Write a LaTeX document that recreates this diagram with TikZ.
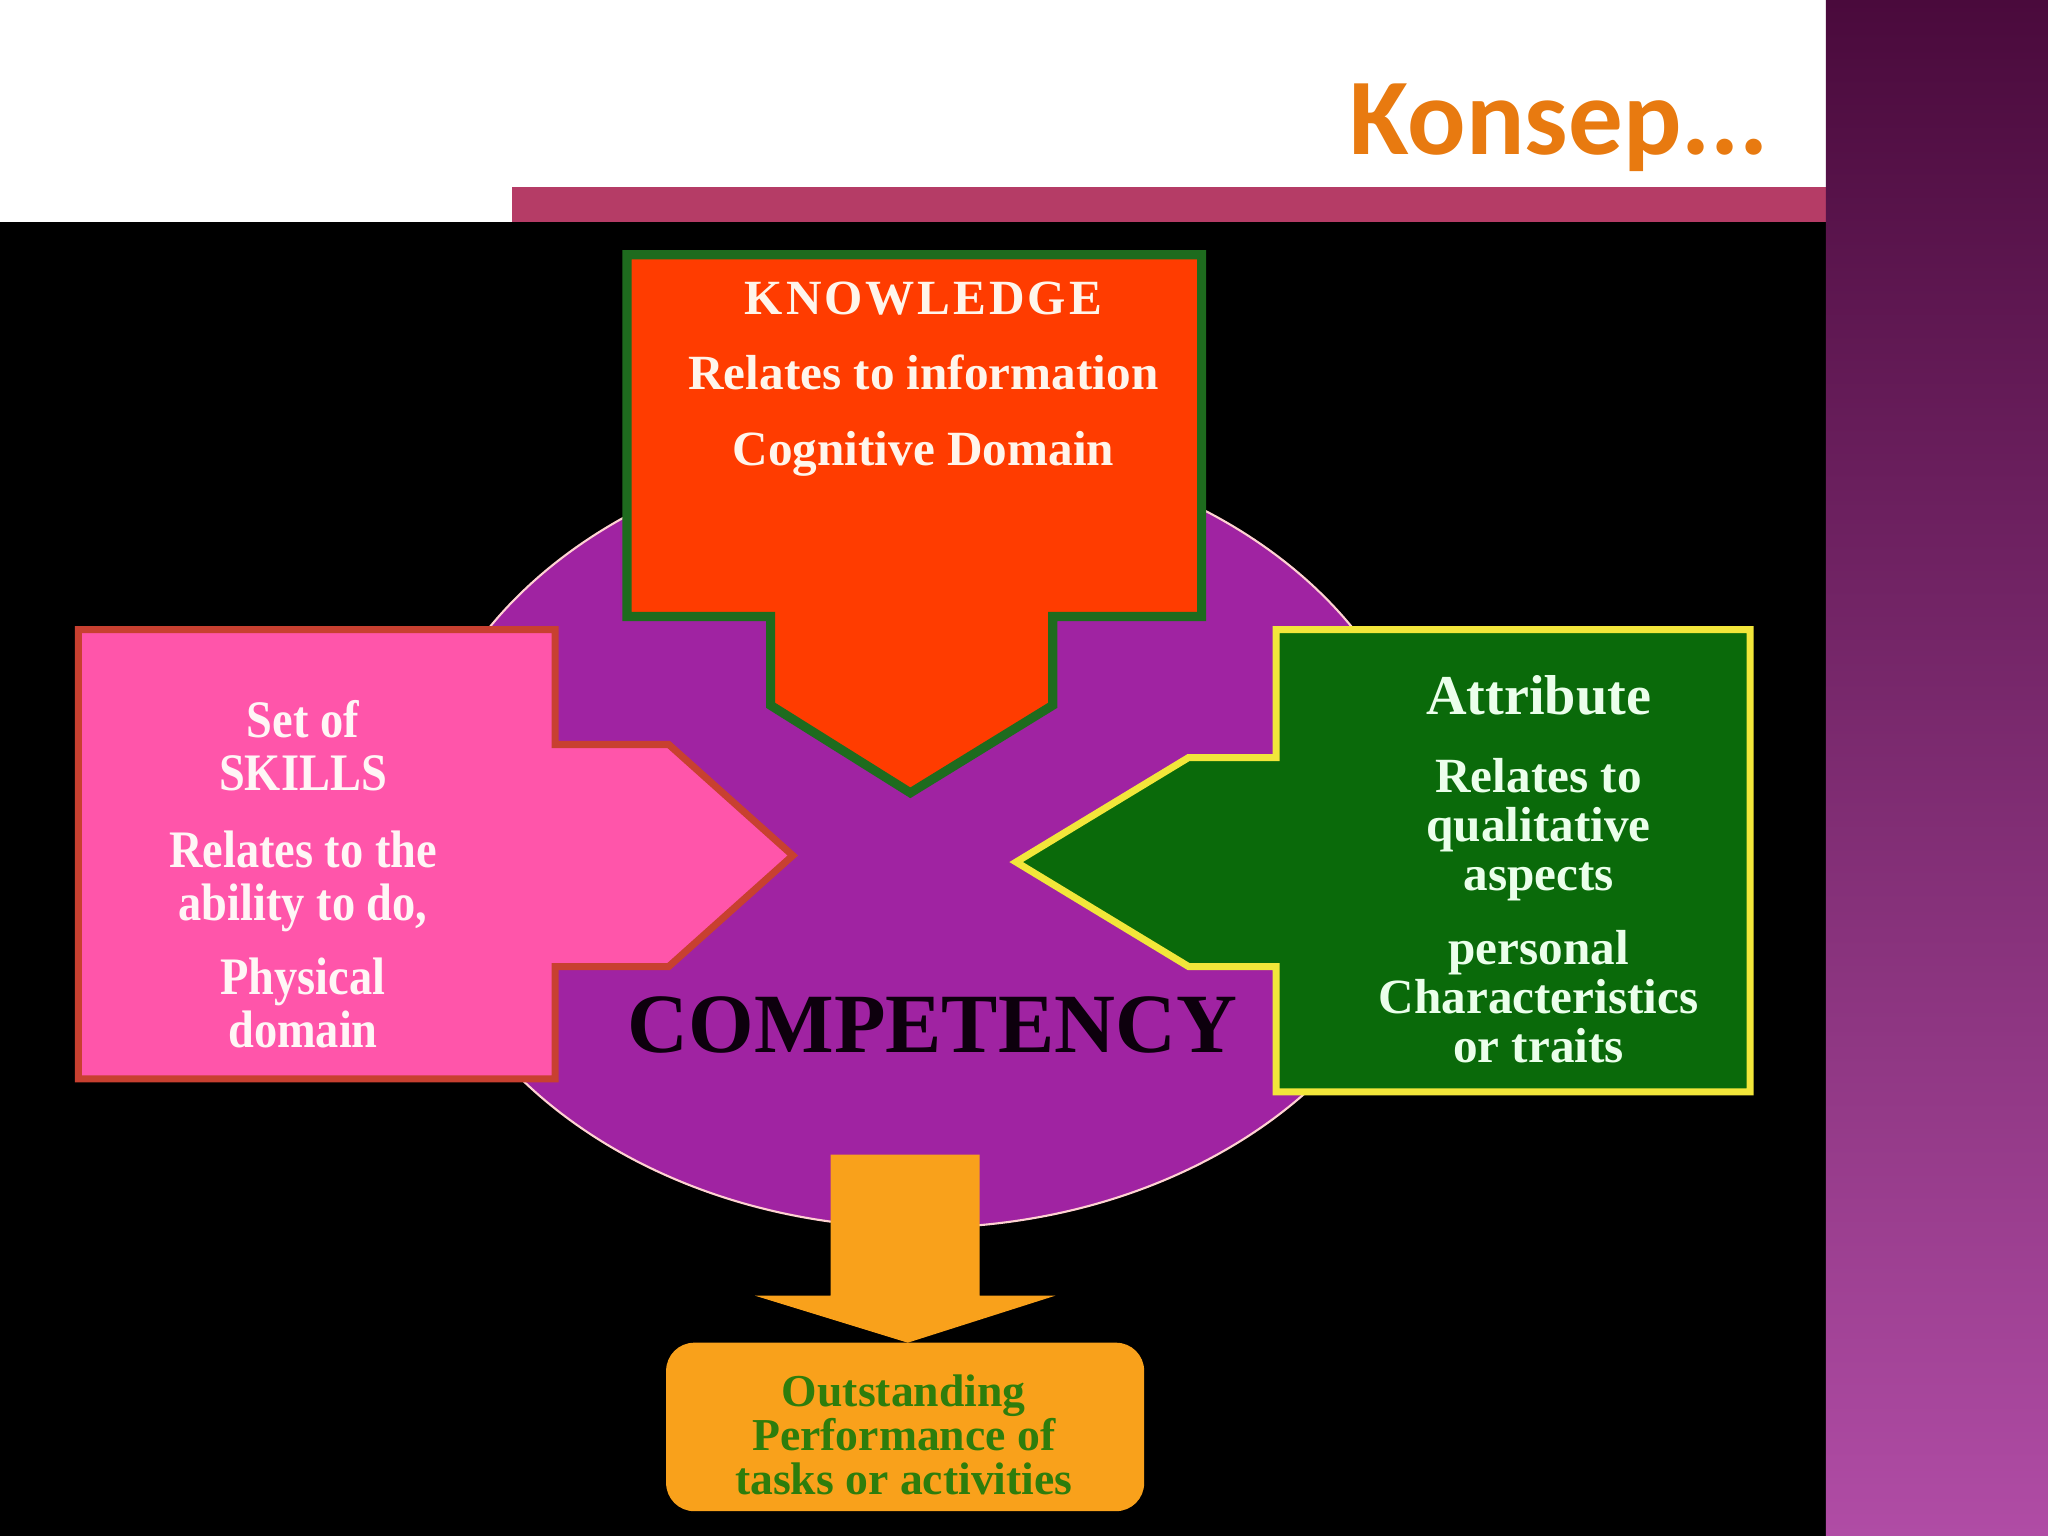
\documentclass[tikz,border=0pt]{standalone}
\usepackage{fontspec}
\setmainfont{Liberation Serif}
\newfontfamily\titlefont{Carlito}
\newfontfamily\narrowfont[FakeStretch=0.88]{Liberation Serif}
\newfontfamily\spacedfont[LetterSpace=6]{Liberation Serif}

\definecolor{panelTop}{HTML}{4A0A3C}
\definecolor{panelBot}{HTML}{B04CA5}
\definecolor{barRose}{HTML}{B53C66}
\definecolor{titleOrange}{HTML}{E87A10}
\definecolor{coreViolet}{HTML}{A023A2}
\definecolor{knowRed}{HTML}{FF3C00}
\definecolor{knowEdge}{HTML}{1E6B1E}
\definecolor{skillPink}{HTML}{FF55AA}
\definecolor{skillEdge}{HTML}{C84030}
\definecolor{attrGreen}{HTML}{0A6A0A}
\definecolor{attrEdge}{HTML}{F2E63A}
\definecolor{perfOrange}{HTML}{F9A11B}
\definecolor{perfText}{HTML}{2E7D0C}

\begin{document}
\begin{tikzpicture}[x=0.01306cm, y=-0.01306cm,
    shapeline/.style={line width=2pt, line join=miter},
    blocktext/.style={inner sep=0pt, align=center, anchor=north}]
        \useasboundingbox (0,0) rectangle (1568,1176);

        % slide background
        \fill[white] (0,0) rectangle (1398,170);
        \fill[black] (0,170) rectangle (1398,1176);
        \fill[barRose] (392,143) rectangle (1398,170);
        \shade[top color=panelTop, bottom color=panelBot] (1398,0) rectangle (1568,1176);

        \node[anchor=base west, inner sep=0pt, text=titleOrange,
              font=\titlefont\bfseries\fontsize{31}{31}\selectfont] (title) at (1033,118) {Konsep...};

        % core of the diagram
        \filldraw[fill=coreViolet, draw=pink!70, line width=0.6pt] (705,640) ellipse (390 and 300);

        \filldraw[fill=knowRed, draw=knowEdge, shapeline, line width=2.6pt]
            (480,195) -- (920,195) -- (920,472) -- (806,472) -- (806,540)
            -- (697,607) -- (590,540) -- (590,472) -- (480,472) -- cycle;

        \filldraw[fill=skillPink, draw=skillEdge, shapeline]
            (60,482) -- (425,482) -- (425,570) -- (512,570) -- (607,655)
            -- (512,740) -- (425,740) -- (425,826) -- (60,826) -- cycle;

        \filldraw[fill=attrGreen, draw=attrEdge, shapeline]
            (977,482) -- (1340,482) -- (1340,836) -- (977,836) -- (977,740)
            -- (910,740) -- (778,660) -- (910,580) -- (977,580) -- cycle;

        \node[anchor=base, inner sep=0pt, text=black!90!violet,
              font=\bfseries\fontsize{24}{24}\selectfont] (core) at (714,806) {COMPETENCY};

        % result
        \fill[perfOrange] (636,884) -- (750,884) -- (750,992) -- (808,992)
            -- (695,1028) -- (578,992) -- (636,992) -- cycle;
        \fill[perfOrange, rounded corners=8pt] (510,1028) rectangle (876,1157);

        % texts
        \node[blocktext, text=orange!8, font=\bfseries\fontsize{14}{21.5}\selectfont] (know) at (707,215)
            {{\spacedfont KNOWLEDGE}\\Relates to information\\Cognitive Domain};

        \node[blocktext, text=pink!15, font=\narrowfont\bfseries\fontsize{15}{15}\selectfont] (skill) at (232,536)
            {Set of\\SKILLS\\[7pt]Relates to the\\ability to do,\\[6pt]Physical\\domain};

        \node[blocktext, text=green!8, font=\bfseries\fontsize{14}{14}\selectfont] (attr) at (1178,517)
            {{\fontsize{16}{16}\selectfont Attribute}\\[8pt]Relates to\\qualitative\\aspects\\[7pt]personal\\Characteristics\\or traits};

        \node[blocktext, text=perfText, font=\bfseries\fontsize{13}{12.5}\selectfont] (perf) at (692,1052)
            {Outstanding\\Performance of\\tasks or activities};
    \end{tikzpicture}
\end{document}
